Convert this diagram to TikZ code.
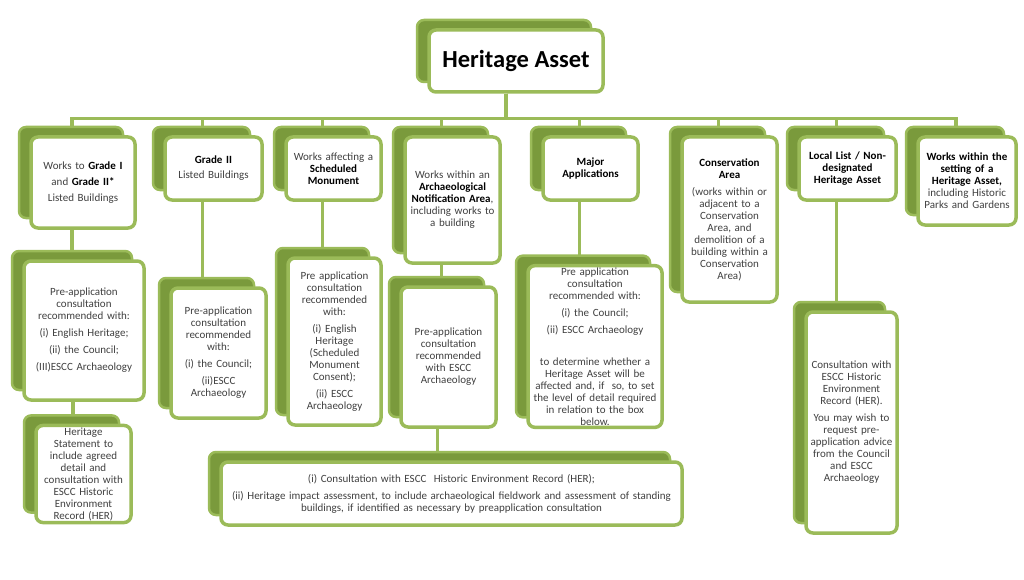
\documentclass[tikz,border=0pt]{standalone}
\usepackage{fontspec}
\setmainfont{Carlito}
\usepackage{tikz}
\usetikzlibrary{shadows,backgrounds}
\usepackage{xcolor}

\definecolor{hgreen}{HTML}{9BBB59}
\definecolor{hdark}{HTML}{7A9A3C}
\definecolor{htext}{HTML}{404040}
\newcommand{\key}[1]{\textbf{\color{black}#1}}

\begin{document}
\begin{tikzpicture}[x=1pt, y=-1pt,
	hbox/.style = {draw=hgreen, line width=3.5pt, fill=white, rounded corners=7pt,
		align=center, inner sep=2pt, text=htext,
		font=\fontsize{11}{12}\selectfont,
		copy shadow={shadow xshift=-12pt, shadow yshift=10pt, fill=hdark, draw=hgreen, line width=2.5pt}},
	link/.style = {draw=hgreen, line width=3.5pt}]
\useasboundingbox (0,0) rectangle (1024,580);

% top
\node[hbox, minimum width=174pt, minimum height=62pt, font=\fontsize{24.5}{28}\selectfont\bfseries, text=black] (top) at (516,61) {Heritage Asset};

% first row
\node[hbox, text width=100pt, minimum height=91pt] (g1) at (83,182.5)
	{Works to \key{Grade I}\\[4pt] and \key{Grade II*}\\[4pt] Listed Buildings};
\node[hbox, text width=93pt, minimum height=63pt] (g2) at (213.5,168.5)
	{\key{Grade II}\\[3pt] Listed Buildings};
\node[hbox, text width=91pt, minimum height=63pt] (g3) at (333.5,168.5)
	{Works affecting a\\ \key{Scheduled}\\ \key{Monument}};
\node[hbox, text width=91pt, minimum height=126pt] (g4) at (452.5,200)
	{Works within an\\ \key{Archaeological}\\ \key{Notification Area},\\ including works to\\ a building};
\node[hbox, text width=91pt, minimum height=63pt] (g5) at (590.5,168.5)
	{\key{Major}\\ \key{Applications}};
\node[hbox, text width=91pt, minimum height=165pt] (g6) at (729.5,219.5)
	{\key{Conservation}\\ \key{Area}\\[5pt] (works within or\\ adjacent to a\\ Conservation\\ Area, and\\ demolition of a\\ building within a\\ Conservation\\ Area)};
\node[hbox, text width=93pt, minimum height=63pt] (g7) at (847.5,168.5)
	{\key{Local List / Non-}\\ \key{designated}\\ \key{Heritage Asset}};
\node[hbox, text width=94pt, minimum height=88pt] (g8) at (967,181)
	{\key{Works within the}\\ \key{setting of a}\\ \key{Heritage Asset,}\\ including Historic\\ Parks and Gardens};

% second row
\node[hbox, text width=116pt, minimum height=139pt] (p1) at (84,330.5)
	{Pre-application\\ consultation\\ recommended with:\\[5pt] (i) English Heritage;\\[5pt] (ii) the Council;\\[5pt] (III)ESCC Archaeology};
\node[hbox, text width=91pt, minimum height=88pt] (s1) at (83.5,474)
	{Heritage\\ Statement to\\ include agreed\\ detail and\\ consultation with\\ ESCC Historic\\ Environment\\ Record (HER)};
\node[hbox, text width=91pt, minimum height=130pt] (p2) at (218.5,353)
	{Pre-application\\ consultation\\ recommended\\ with:\\[5pt] (i) the Council;\\[5pt] (ii)ESCC\\ Archaeology};
\node[hbox, text width=89pt, minimum height=167pt] (p3) at (334.5,341.5)
	{Pre application\\ consultation\\ recommended\\ with:\\[5pt] (i) English\\ Heritage\\ (Scheduled\\ Monument\\ Consent);\\[5pt] (ii) ESCC\\ Archaeology};
\node[hbox, text width=91pt, minimum height=140pt] (p4) at (448.5,357)
	{Pre-application\\ consultation\\ recommended\\ with ESCC\\ Archaeology};
\node[hbox, text width=130pt, minimum height=153pt] (p5) at (595,346.5)
	{Pre application\\ consultation\\ recommended with:\\[5pt] (i) the Council;\\[5pt] (ii) ESCC Archaeology\\[20pt] to determine whether a\\ Heritage Asset will be\\ affected and, if\ \ so, to set\\ the level of detail required\\ in relation to the box\\ below.};
\node[hbox, text width=87pt, minimum height=221pt] (p7) at (851.5,422.5)
	{Consultation with\\ ESCC Historic\\ Environment\\ Record (HER).\\[5pt] You may wish to\\ request pre-\\ application advice\\ from the Council\\ and ESCC\\ Archaeology};

% bottom
\node[hbox, text width=457pt, minimum height=63pt] (b) at (451.5,493.5)
	{(i) Consultation with ESCC\ \ Historic Environment Record (HER);\\[5pt] (ii) Heritage impact assessment, to include archaeological fieldwork and assessment of standing\\ buildings, if identified as necessary by preapplication consultation};

% connectors
\begin{pgfonlayer}{background}
\foreach \g in {g1,g2,g3,g4,g5,g6,g7,g8}
	\draw[link] ([xshift=-10pt]top.south) -- ++(0,25) -| ([xshift=-11pt]\g.north);
\draw[link] ([xshift=-11pt]g1.south) -- ([xshift=-11pt]g1.south |- p1.north);
\draw[link] ([xshift=-11pt]p1.south) -- ([xshift=-11pt]p1.south |- s1.north);
\draw[link] ([xshift=-11pt]g2.south) -- ([xshift=-11pt]g2.south |- p2.north);
\draw[link] ([xshift=-11pt]g3.south) -- ([xshift=-11pt]g3.south |- p3.north);
\draw[link] ([xshift=-11pt]g4.south) -- ([xshift=-11pt]g4.south |- p4.north);
\draw[link] ([xshift=-11pt]g5.south) -- ([xshift=-11pt]g5.south |- p5.north);
\draw[link] ([xshift=-11pt]g7.south) -- ([xshift=-11pt]g7.south |- p7.north);
\draw[link] ([xshift=-11pt]p4.south) -- ([xshift=-11pt]p4.south |- b.north);
\end{pgfonlayer}
\end{tikzpicture}
\end{document}
